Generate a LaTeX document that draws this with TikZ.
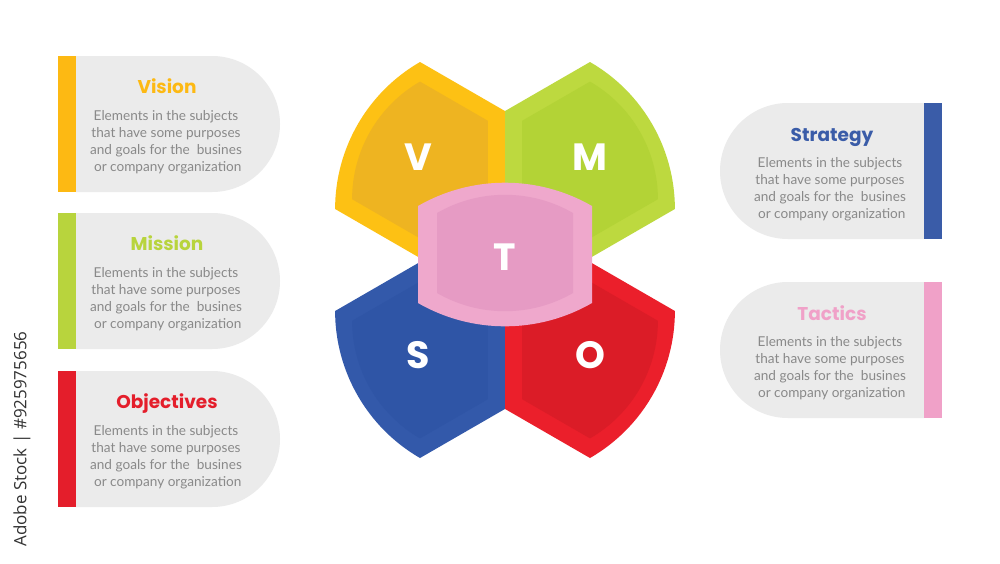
\documentclass[tikz,border=0pt]{standalone}
\usepackage{fontspec}
\setmainfont{Lato}
\newfontfamily\titlefont{Poppins}
\newfontfamily\stockfont{Open Sans}
\usetikzlibrary{shapes.misc}

\definecolor{cardgray}{HTML}{EBEBEB}
\definecolor{bodygray}{HTML}{898989}
\definecolor{vyellow}{HTML}{FDC114}
\definecolor{vyellowin}{HTML}{EEB421}
\definecolor{mgreen}{HTML}{BDD93F}
\definecolor{mgreenin}{HTML}{B3D336}
\definecolor{sblue}{HTML}{3359AA}
\definecolor{sbluein}{HTML}{2F55A6}
\definecolor{ored}{HTML}{EB1F2B}
\definecolor{oredin}{HTML}{DB1C27}
\definecolor{tpink}{HTML}{EFA8CC}
\definecolor{tpinkin}{HTML}{E69BC4}
\definecolor{visiont}{HTML}{FDB913}
\definecolor{missiont}{HTML}{B8D43D}
\definecolor{objectivet}{HTML}{E41E2B}
\definecolor{strategyt}{HTML}{3A5CA8}
\definecolor{tacticst}{HTML}{F0A1C8}

\begin{document}
\begin{tikzpicture}[x=1pt,y=-1pt,
  card/.style={rounded rectangle,fill=cardgray,minimum width=204pt,minimum height=136pt,inner sep=0pt},
  bar/.style={rectangle,minimum width=18pt,minimum height=136pt,inner sep=0pt},
  heading/.style={anchor=base,font=\titlefont\bfseries\fontsize{18.5}{20}\selectfont},
  body/.style={font=\fontsize{13.6}{17}\selectfont,text=bodygray,align=center,inner sep=0pt},
  letter/.style={font=\titlefont\bfseries\fontsize{38}{40}\selectfont,text=white}]
\fill[white] (0,0) rectangle (1000,563);
\useasboundingbox (0,0) rectangle (1000,563);

% left cards
\foreach \id/\lbl/\col/\ytop in {v/Vision/visiont/56,m/Mission/missiont/213,o/Objectives/objectivet/371}{
  \node[card,rounded rectangle west arc=none] (card\id) at (178,\ytop+68) {};
  \node[bar,fill=\col] (bar\id) at (67,\ytop+68) {};
  \node[heading,text=\col] (head\id) at (167,\ytop+37.5) {\lbl};
  \node[body] (text\id) at (166,\ytop+86) {Elements in the subjects\\that have some purposes\\and goals for the\ \ busines\\\ or company organization};
}

% right cards
\foreach \id/\lbl/\col/\ytop in {s/Strategy/strategyt/103,t/Tactics/tacticst/282}{
  \node[card,rounded rectangle east arc=none] (card\id) at (822,\ytop+68) {};
  \node[bar,fill=\col] (bar\id) at (933,\ytop+68) {};
  \node[heading,text=\col] (head\id) at (832,\ytop+38) {\lbl};
  \node[body] (text\id) at (830,\ytop+86) {Elements in the subjects\\that have some purposes\\and goals for the\ \ busines\\\ or company organization};
}

% shields
\foreach \cx/\cy/\sx/\sy/\outcol/\incol in {420/160/1/1/vyellow/vyellowin,590/160/-1/1/mgreen/mgreenin,420/360/1/-1/sblue/sbluein,590/360/-1/-1/ored/oredin}{
  \begin{scope}[shift={(\cx,\cy)},xscale=\sx,yscale=\sy]
    \fill[\outcol] (0,-98) -- (84.9,-49) -- (84.9,49) -- (0,98) -- (-84.9,49) arc[start angle=180,end angle=240,radius=169.7] -- cycle;
    \fill[\incol,scale=0.8] (0,-98) -- (84.9,-49) -- (84.9,49) -- (0,98) -- (-84.9,49) arc[start angle=180,end angle=240,radius=169.7] -- cycle;
  \end{scope}
}

% centre piece
\fill[tpink] (418,206) arc[start angle=240,end angle=300,radius=174] -- (592,303) arc[start angle=60,end angle=120,radius=174] -- cycle;
\fill[tpinkin] (437,213) arc[start angle=240,end angle=300,radius=136] -- (573,293) arc[start angle=60,end angle=120,radius=136] -- cycle;

\node[letter] (letterv) at (418,157) {V};
\node[letter] (letterm) at (590,157) {M};
\node[letter] (lettert) at (505,257) {T};
\node[letter] (letters) at (418,355) {S};
\node[letter] (lettero) at (590,355) {O};

\node[rotate=90,font=\stockfont\fontsize{17}{19}\selectfont,text=black!80] (stock) at (22,439) {Adobe Stock | \#925975656};
\end{tikzpicture}
\end{document}
